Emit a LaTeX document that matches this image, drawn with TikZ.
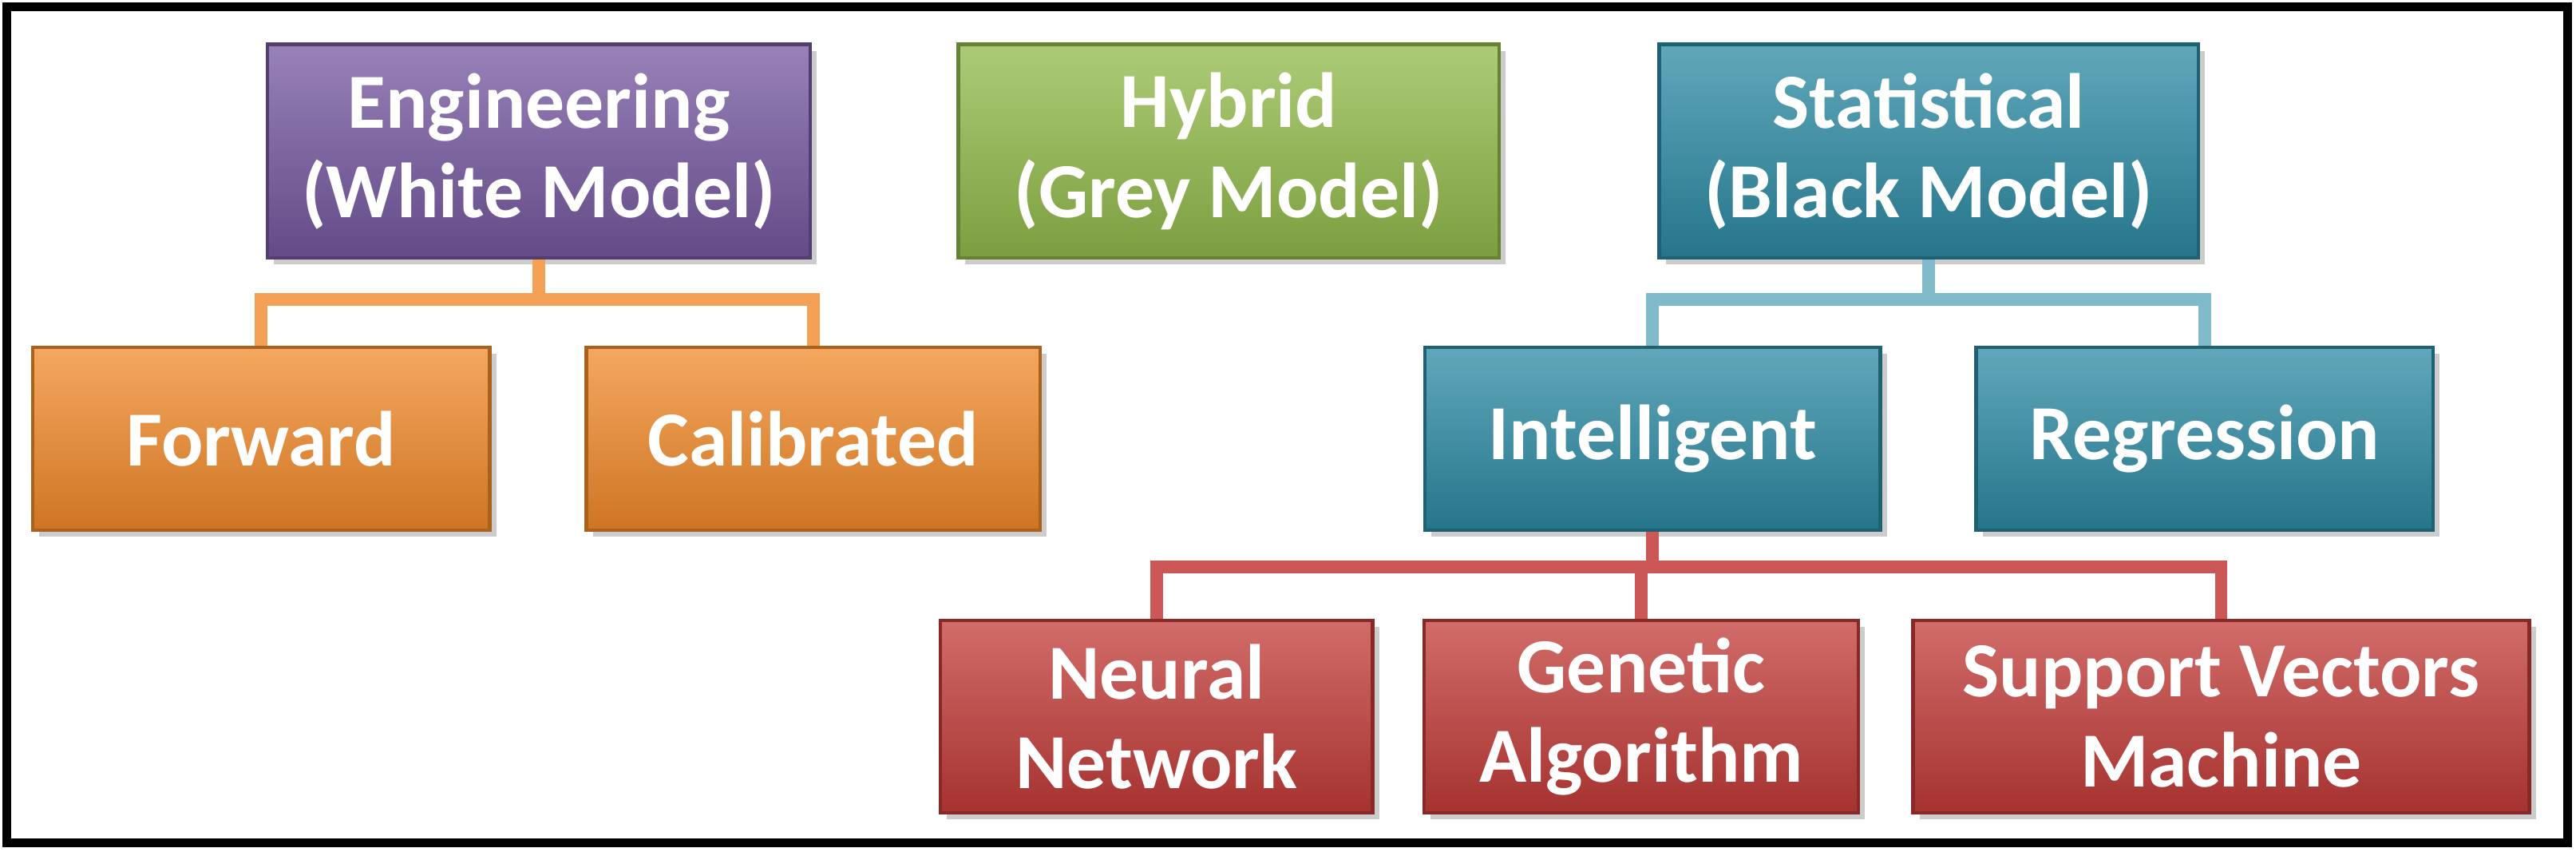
\documentclass[tikz,border=0pt]{standalone}
\usepackage{fontspec}
\setmainfont{Carlito}
\usetikzlibrary{shadows}
\definecolor{purp}{HTML}{7558A0}
\definecolor{grn}{HTML}{92BA4A}
\definecolor{teal}{HTML}{2C8AA3}
\definecolor{orng}{HTML}{F28A2A}
\definecolor{redd}{HTML}{C23B38}
\tikzset{
 box/.style={draw=#1!70!black, line width=0.6pt, top color=#1!75!white, bottom color=#1!85!black,
   text=white, font=\fontsize{13.5}{15.5}\selectfont\bfseries, align=center, inner sep=0pt,
   drop shadow={shadow xshift=0.04cm, shadow yshift=-0.04cm, opacity=0.4}},
 link/.style={draw=#1, line width=2.2pt}
}
\begin{document}
\begin{tikzpicture}[x=0.01cm,y=-0.01cm]
\useasboundingbox (0,0) rectangle (1568,518);
\draw[line width=1.5pt] (4,4) rectangle (1563,513);
% connectors
\coordinate (e1) at (328,182); \coordinate (s1) at (1174,182); \coordinate (i1) at (1006,345);
\node[box=purp, minimum width=3.30cm, minimum height=1.30cm] (eng) at (328,92) {Engineering\\(White Model)};
\node[box=grn, minimum width=3.29cm, minimum height=1.30cm] (hyb) at (748,92) {Hybrid\\(Grey Model)};
\node[box=teal, minimum width=3.28cm, minimum height=1.30cm] (sta) at (1174,92) {Statistical\\(Black Model)};
\node[box=orng, minimum width=2.78cm, minimum height=1.11cm] (fwd) at (159,267) {Forward};
\node[box=orng, minimum width=2.76cm, minimum height=1.11cm] (cal) at (495,267) {Calibrated};
\node[box=teal, minimum width=2.77cm, minimum height=1.11cm] (int) at (1006,267) {Intelligent};
\node[box=teal, minimum width=2.78cm, minimum height=1.11cm] (reg) at (1342,267) {Regression};
\node[box=redd, minimum width=2.63cm, minimum height=1.17cm] (nn) at (704,436) {Neural\\Network};
\node[box=redd, minimum width=2.64cm, minimum height=1.17cm] (ga) at (999,436) {Genetic\\Algorithm};
\node[box=redd, minimum width=3.75cm, minimum height=1.17cm] (svm) at (1352,436) {Support Vectors\\Machine};
\begin{scope}[on background layer/.try]
\end{scope}
\draw[link=orng!80!white] (eng.south) -- (e1) -| (fwd.north);
\draw[link=orng!80!white] (e1) -| (cal.north);
\draw[link=teal!60!white] (sta.south) -- (s1) -| (int.north);
\draw[link=teal!60!white] (s1) -| (reg.north);
\draw[link=redd!85!white] (int.south) -- (i1) -| (nn.north);
\draw[link=redd!85!white] (i1) -| (ga.north);
\draw[link=redd!85!white] (i1) -| (svm.north);
\end{tikzpicture}
\end{document}
